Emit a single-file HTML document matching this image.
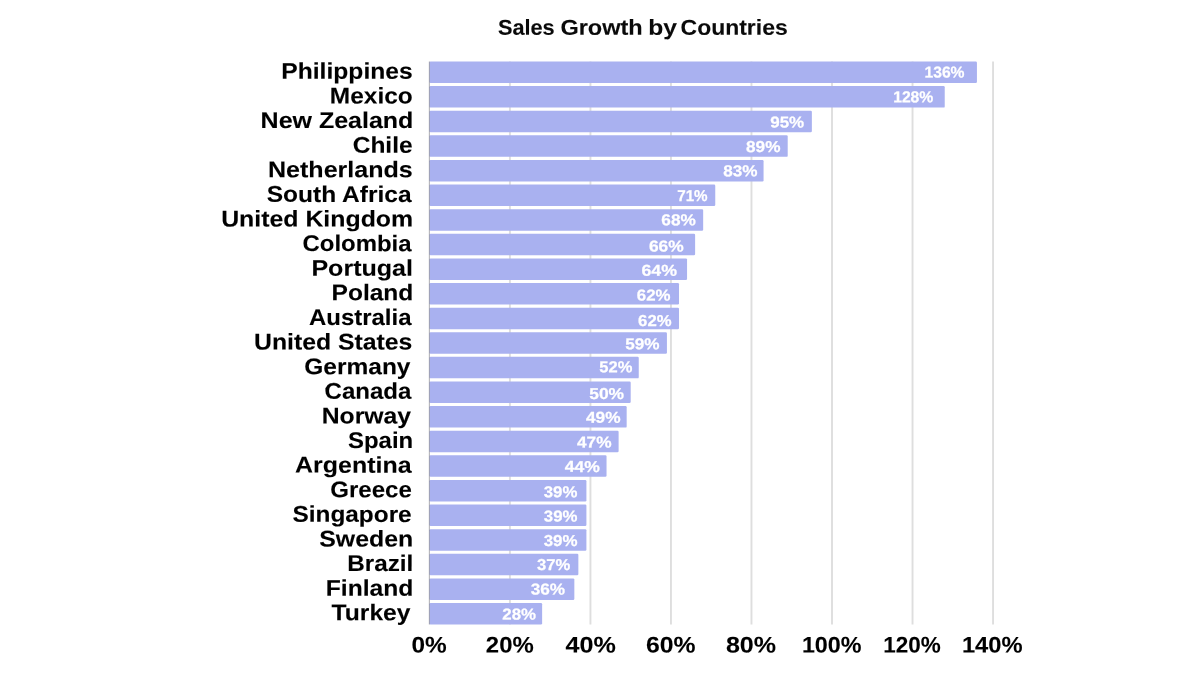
<!DOCTYPE html>
<html lang="en"><head><meta charset="utf-8"><title>Sales Growth by Countries</title>
<style>html,body{margin:0;padding:0;background:#fff}body{width:1200px;height:675px;overflow:hidden}svg{display:block}text{font-family:"Liberation Sans",Arial,sans-serif;font-weight:700;white-space:pre;text-rendering:geometricPrecision}.k text{stroke:#000;stroke-width:.1px;stroke-linejoin:round}.w text{stroke:#fff;stroke-width:.25px;stroke-linejoin:round}</style></head><body>
<svg width="1200" height="675" viewBox="0 0 1200 675">
<rect width="1200" height="675" fill="#ffffff"/>
<g stroke="#dedede" stroke-width="1.9">
<line x1="509.92" y1="61.50" x2="509.92" y2="624.51"/>
<line x1="590.44" y1="61.50" x2="590.44" y2="624.51"/>
<line x1="670.96" y1="61.50" x2="670.96" y2="624.51"/>
<line x1="751.48" y1="61.50" x2="751.48" y2="624.51"/>
<line x1="832.00" y1="61.50" x2="832.00" y2="624.51"/>
<line x1="912.52" y1="61.50" x2="912.52" y2="624.51"/>
<line x1="993.04" y1="61.50" x2="993.04" y2="624.51"/>
</g>
<g fill="#a9b1f0">
<rect x="429.40" y="61.50" width="547.54" height="21.50" rx="1.2"/>
<rect x="429.40" y="86.11" width="515.33" height="21.50" rx="1.2"/>
<rect x="429.40" y="110.73" width="382.47" height="21.50" rx="1.2"/>
<rect x="429.40" y="135.34" width="358.31" height="21.50" rx="1.2"/>
<rect x="429.40" y="159.96" width="334.16" height="21.50" rx="1.2"/>
<rect x="429.40" y="184.57" width="285.85" height="21.50" rx="1.2"/>
<rect x="429.40" y="209.18" width="273.77" height="21.50" rx="1.2"/>
<rect x="429.40" y="233.80" width="265.72" height="21.50" rx="1.2"/>
<rect x="429.40" y="258.41" width="257.66" height="21.50" rx="1.2"/>
<rect x="429.40" y="283.03" width="249.61" height="21.50" rx="1.2"/>
<rect x="429.40" y="307.64" width="249.61" height="21.50" rx="1.2"/>
<rect x="429.40" y="332.25" width="237.53" height="21.50" rx="1.2"/>
<rect x="429.40" y="356.87" width="209.35" height="21.50" rx="1.2"/>
<rect x="429.40" y="381.48" width="201.30" height="21.50" rx="1.2"/>
<rect x="429.40" y="406.10" width="197.27" height="21.50" rx="1.2"/>
<rect x="429.40" y="430.71" width="189.22" height="21.50" rx="1.2"/>
<rect x="429.40" y="455.32" width="177.14" height="21.50" rx="1.2"/>
<rect x="429.40" y="479.94" width="157.01" height="21.50" rx="1.2"/>
<rect x="429.40" y="504.55" width="157.01" height="21.50" rx="1.2"/>
<rect x="429.40" y="529.17" width="157.01" height="21.50" rx="1.2"/>
<rect x="429.40" y="553.78" width="148.96" height="21.50" rx="1.2"/>
<rect x="429.40" y="578.39" width="144.94" height="21.50" rx="1.2"/>
<rect x="429.40" y="603.01" width="112.73" height="21.50" rx="1.2"/>
</g>
<line x1="429.35" y1="61.50" x2="429.35" y2="624.51" stroke="#74747c" stroke-width="0.6"/>
<g class="k">
<text id="t0" transform="rotate(.03 497.9 34.8)" x="497.94" y="34.80" font-size="21.6" fill="#0a0a0a" textLength="56.74" lengthAdjust="spacingAndGlyphs">Sales</text>
<text id="t1" transform="rotate(.03 560.4 34.8)" x="560.42" y="34.80" font-size="21.6" fill="#0a0a0a" textLength="82.34" lengthAdjust="spacingAndGlyphs">Growth</text>
<text id="t2" transform="rotate(.03 648.3 34.8)" x="648.33" y="34.80" font-size="21.6" fill="#0a0a0a" textLength="28.75" lengthAdjust="spacingAndGlyphs">by</text>
<text id="t3" transform="rotate(.03 680.6 34.8)" x="680.61" y="34.80" font-size="21.6" fill="#0a0a0a" textLength="107.08" lengthAdjust="spacingAndGlyphs">Countries</text>
</g>
<g class="k">
<text id="c0" transform="rotate(.03 281.3 78.8)" x="281.30" y="78.80" font-size="22.7" fill="#000000" textLength="131.41" lengthAdjust="spacingAndGlyphs">Philippines</text>
<text id="c1" transform="rotate(.03 329.8 103.4)" x="329.84" y="103.41" font-size="22.7" fill="#000000" textLength="82.89" lengthAdjust="spacingAndGlyphs">Mexico</text>
<text id="c2" transform="rotate(.03 260.6 128.0)" x="260.61" y="128.03" font-size="22.7" fill="#000000" textLength="152.73" lengthAdjust="spacingAndGlyphs">New Zealand</text>
<text id="c3" transform="rotate(.03 352.7 152.6)" x="352.69" y="152.64" font-size="22.7" fill="#000000" textLength="59.95" lengthAdjust="spacingAndGlyphs">Chile</text>
<text id="c4" transform="rotate(.03 268.0 177.3)" x="267.99" y="177.26" font-size="22.7" fill="#000000" textLength="144.79" lengthAdjust="spacingAndGlyphs">Netherlands</text>
<text id="c5" transform="rotate(.03 266.8 201.9)" x="266.77" y="201.87" font-size="22.7" fill="#000000" textLength="144.76" lengthAdjust="spacingAndGlyphs">South Africa</text>
<text id="c6" transform="rotate(.03 221.1 226.5)" x="221.15" y="226.48" font-size="22.7" fill="#000000" textLength="192.02" lengthAdjust="spacingAndGlyphs">United Kingdom</text>
<text id="c7" transform="rotate(.03 302.5 251.1)" x="302.48" y="251.10" font-size="22.7" fill="#000000" textLength="109.07" lengthAdjust="spacingAndGlyphs">Colombia</text>
<text id="c8" transform="rotate(.03 311.4 275.7)" x="311.41" y="275.71" font-size="22.7" fill="#000000" textLength="101.53" lengthAdjust="spacingAndGlyphs">Portugal</text>
<text id="c9" transform="rotate(.03 331.5 300.3)" x="331.53" y="300.33" font-size="22.7" fill="#000000" textLength="81.86" lengthAdjust="spacingAndGlyphs">Poland</text>
<text id="c10" transform="rotate(.03 309.0 324.9)" x="308.99" y="324.94" font-size="22.7" fill="#000000" textLength="102.51" lengthAdjust="spacingAndGlyphs">Australia</text>
<text id="c11" transform="rotate(.03 254.0 349.6)" x="254.02" y="349.55" font-size="22.7" fill="#000000" textLength="158.39" lengthAdjust="spacingAndGlyphs">United States</text>
<text id="c12" transform="rotate(.03 304.2 374.2)" x="304.23" y="374.17" font-size="22.7" fill="#000000" textLength="106.30" lengthAdjust="spacingAndGlyphs">Germany</text>
<text id="c13" transform="rotate(.03 324.6 398.8)" x="324.56" y="398.78" font-size="22.7" fill="#000000" textLength="86.88" lengthAdjust="spacingAndGlyphs">Canada</text>
<text id="c14" transform="rotate(.03 321.7 423.4)" x="321.67" y="423.40" font-size="22.7" fill="#000000" textLength="89.45" lengthAdjust="spacingAndGlyphs">Norway</text>
<text id="c15" transform="rotate(.03 348.1 448.0)" x="348.08" y="448.01" font-size="22.7" fill="#000000" textLength="65.09" lengthAdjust="spacingAndGlyphs">Spain</text>
<text id="c16" transform="rotate(.03 295.1 472.6)" x="295.11" y="472.62" font-size="22.7" fill="#000000" textLength="116.43" lengthAdjust="spacingAndGlyphs">Argentina</text>
<text id="c17" transform="rotate(.03 330.3 497.2)" x="330.33" y="497.24" font-size="22.7" fill="#000000" textLength="81.50" lengthAdjust="spacingAndGlyphs">Greece</text>
<text id="c18" transform="rotate(.03 292.5 521.9)" x="292.52" y="521.85" font-size="22.7" fill="#000000" textLength="119.15" lengthAdjust="spacingAndGlyphs">Singapore</text>
<text id="c19" transform="rotate(.03 319.3 546.5)" x="319.26" y="546.47" font-size="22.7" fill="#000000" textLength="93.94" lengthAdjust="spacingAndGlyphs">Sweden</text>
<text id="c20" transform="rotate(.03 347.3 571.1)" x="347.27" y="571.08" font-size="22.7" fill="#000000" textLength="66.06" lengthAdjust="spacingAndGlyphs">Brazil</text>
<text id="c21" transform="rotate(.03 325.7 595.7)" x="325.72" y="595.69" font-size="22.7" fill="#000000" textLength="87.69" lengthAdjust="spacingAndGlyphs">Finland</text>
<text id="c22" transform="rotate(.03 331.6 620.3)" x="331.55" y="620.31" font-size="22.7" fill="#000000" textLength="78.98" lengthAdjust="spacingAndGlyphs">Turkey</text>
</g>
<g class="w">
<text id="v0" transform="rotate(.03 924.5 77.5)" x="924.46" y="77.50" font-size="15.8" fill="#ffffff" textLength="40.10" lengthAdjust="spacingAndGlyphs">136%</text>
<text id="v1" transform="rotate(.03 893.1 102.2)" x="893.15" y="102.20" font-size="15.8" fill="#ffffff" textLength="40.19" lengthAdjust="spacingAndGlyphs">128%</text>
<text id="v2" transform="rotate(.03 770.2 127.6)" x="770.24" y="127.55" font-size="15.8" fill="#ffffff" textLength="33.97" lengthAdjust="spacingAndGlyphs">95%</text>
<text id="v3" transform="rotate(.03 746.0 151.9)" x="746.04" y="151.90" font-size="15.8" fill="#ffffff" textLength="34.40" lengthAdjust="spacingAndGlyphs">89%</text>
<text id="v4" transform="rotate(.03 723.3 176.2)" x="723.31" y="176.25" font-size="15.8" fill="#ffffff" textLength="34.30" lengthAdjust="spacingAndGlyphs">83%</text>
<text id="v5" transform="rotate(.03 677.2 201.1)" x="677.20" y="201.12" font-size="15.8" fill="#ffffff" textLength="30.41" lengthAdjust="spacingAndGlyphs">71%</text>
<text id="v6" transform="rotate(.03 661.4 225.2)" x="661.39" y="225.25" font-size="15.8" fill="#ffffff" textLength="34.43" lengthAdjust="spacingAndGlyphs">68%</text>
<text id="v7" transform="rotate(.03 649.0 251.4)" x="648.96" y="251.43" font-size="15.8" fill="#ffffff" textLength="34.79" lengthAdjust="spacingAndGlyphs">66%</text>
<text id="v8" transform="rotate(.03 641.4 275.7)" x="641.41" y="275.67" font-size="15.8" fill="#ffffff" textLength="35.53" lengthAdjust="spacingAndGlyphs">64%</text>
<text id="v9" transform="rotate(.03 636.9 300.5)" x="636.88" y="300.55" font-size="15.8" fill="#ffffff" textLength="33.69" lengthAdjust="spacingAndGlyphs">62%</text>
<text id="v10" transform="rotate(.03 638.1 325.9)" x="638.13" y="325.90" font-size="15.8" fill="#ffffff" textLength="33.39" lengthAdjust="spacingAndGlyphs">62%</text>
<text id="v11" transform="rotate(.03 625.1 349.1)" x="625.15" y="349.15" font-size="15.8" fill="#ffffff" textLength="34.32" lengthAdjust="spacingAndGlyphs">59%</text>
<text id="v12" transform="rotate(.03 599.4 372.3)" x="599.36" y="372.30" font-size="15.8" fill="#ffffff" textLength="33.05" lengthAdjust="spacingAndGlyphs">52%</text>
<text id="v13" transform="rotate(.03 589.2 399.0)" x="589.21" y="399.00" font-size="15.8" fill="#ffffff" textLength="34.84" lengthAdjust="spacingAndGlyphs">50%</text>
<text id="v14" transform="rotate(.03 586.0 422.6)" x="585.95" y="422.65" font-size="15.8" fill="#ffffff" textLength="34.57" lengthAdjust="spacingAndGlyphs">49%</text>
<text id="v15" transform="rotate(.03 577.0 447.6)" x="577.03" y="447.57" font-size="15.8" fill="#ffffff" textLength="34.56" lengthAdjust="spacingAndGlyphs">47%</text>
<text id="v16" transform="rotate(.03 564.8 471.9)" x="564.76" y="471.88" font-size="15.8" fill="#ffffff" textLength="35.05" lengthAdjust="spacingAndGlyphs">44%</text>
<text id="v17" transform="rotate(.03 543.8 497.2)" x="543.76" y="497.25" font-size="15.8" fill="#ffffff" textLength="33.62" lengthAdjust="spacingAndGlyphs">39%</text>
<text id="v18" transform="rotate(.03 543.8 521.6)" x="543.80" y="521.55" font-size="15.8" fill="#ffffff" textLength="33.64" lengthAdjust="spacingAndGlyphs">39%</text>
<text id="v19" transform="rotate(.03 543.7 546.0)" x="543.70" y="546.05" font-size="15.8" fill="#ffffff" textLength="33.84" lengthAdjust="spacingAndGlyphs">39%</text>
<text id="v20" transform="rotate(.03 537.1 570.1)" x="537.11" y="570.12" font-size="15.8" fill="#ffffff" textLength="33.27" lengthAdjust="spacingAndGlyphs">37%</text>
<text id="v21" transform="rotate(.03 530.8 594.6)" x="530.78" y="594.60" font-size="15.8" fill="#ffffff" textLength="34.36" lengthAdjust="spacingAndGlyphs">36%</text>
<text id="v22" transform="rotate(.03 502.3 619.4)" x="502.30" y="619.40" font-size="15.8" fill="#ffffff" textLength="33.72" lengthAdjust="spacingAndGlyphs">28%</text>
</g>
<g class="k">
<text id="x0" transform="rotate(.03 411.5 652.4)" x="411.45" y="652.40" font-size="22.6" fill="#000000" textLength="35.21" lengthAdjust="spacingAndGlyphs">0%</text>
<text id="x1" transform="rotate(.03 485.9 652.4)" x="485.86" y="652.40" font-size="22.6" fill="#000000" textLength="47.86" lengthAdjust="spacingAndGlyphs">20%</text>
<text id="x2" transform="rotate(.03 565.6 652.4)" x="565.64" y="652.40" font-size="22.6" fill="#000000" textLength="50.26" lengthAdjust="spacingAndGlyphs">40%</text>
<text id="x3" transform="rotate(.03 645.9 652.4)" x="645.92" y="652.40" font-size="22.6" fill="#000000" textLength="49.52" lengthAdjust="spacingAndGlyphs">60%</text>
<text id="x4" transform="rotate(.03 725.9 652.4)" x="725.92" y="652.40" font-size="22.6" fill="#000000" textLength="50.08" lengthAdjust="spacingAndGlyphs">80%</text>
<text id="x5" transform="rotate(.03 801.9 652.4)" x="801.91" y="652.40" font-size="22.6" fill="#000000" textLength="59.60" lengthAdjust="spacingAndGlyphs">100%</text>
<text id="x6" transform="rotate(.03 883.2 652.4)" x="883.17" y="652.40" font-size="22.6" fill="#000000" textLength="57.46" lengthAdjust="spacingAndGlyphs">120%</text>
<text id="x7" transform="rotate(.03 961.9 652.4)" x="961.93" y="652.40" font-size="22.6" fill="#000000" textLength="60.70" lengthAdjust="spacingAndGlyphs">140%</text>
</g>
</svg></body></html>
